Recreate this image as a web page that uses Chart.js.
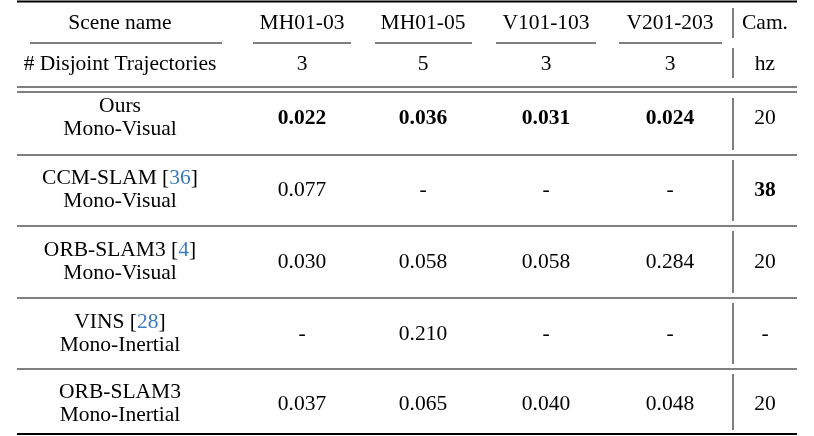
<!DOCTYPE html>
<html>
<head>
<meta charset="utf-8">
<script src="https://cdn.jsdelivr.net/npm/chart.js@4"></script>
<style>
  html, body { margin: 0; padding: 0; background: #fff; }
  #wrap { width: 814px; height: 436px; }
</style>
</head>
<body>
<div id="wrap"><canvas id="table-canvas"></canvas></div>
<script>
// table content
const scenes = ['MH01-03', 'MH01-05', 'V101-103', 'V201-203'];
const trajectories = ['3', '5', '3', '3'];
const methods = ['Ours', 'CCM-SLAM', 'ORB-SLAM3', 'VINS', 'ORB-SLAM3'];
const cites = ['', '36', '4', '28', ''];
const modes = ['Mono-Visual', 'Mono-Visual', 'Mono-Visual', 'Mono-Inertial', 'Mono-Inertial'];
const mh0103 = ['0.022', '0.077', '0.030', '-', '0.037'];
const mh0105 = ['0.036', '-', '0.058', '0.210', '0.065'];
const v101103 = ['0.031', '-', '0.058', '-', '0.040'];
const v201203 = ['0.024', '-', '0.284', '-', '0.048'];
const camHz = ['20', '38', '20', '-', '20'];
const boldCells = [[0, 1], [0, 2], [0, 3], [0, 4], [1, 5]];

// layout (pixel units on the hidden linear scales)
const colX = [120, 302, 423, 546, 670, 765];
const headerY = [23, 64];
const rowY = [118, 190, 262, 334, 404];
const FONT = '"Liberation Serif", "Times New Roman", serif';
const SIZE = 21.5;

const tablePlugin = {
  id: 'tableDraw',
  afterDraw(chart) {
    const c = chart.ctx;
    const xs = chart.scales.x, ys = chart.scales.y;
    const X = v => xs.getPixelForValue(v);
    const Y = v => ys.getPixelForValue(v);
    c.save();
    c.fillStyle = '#000';
    c.strokeStyle = '#000';
    c.textBaseline = 'middle';
    c.textAlign = 'center';

    const hline = (x0, x1, y, w) => {
      c.lineWidth = w; c.beginPath(); c.moveTo(X(x0), Y(y)); c.lineTo(X(x1), Y(y)); c.stroke();
    };
    const vline = (x, y0, y1) => {
      c.lineWidth = 1; c.beginPath(); c.moveTo(X(x), Y(y0)); c.lineTo(X(x), Y(y1)); c.stroke();
    };
    const text = (s, x, y, bold) => {
      c.font = (bold ? 'bold ' : '') + SIZE + 'px ' + FONT;
      c.fillText(s, X(x), Y(y));
    };

    // rules
    hline(17, 797, 1.5, 2);
    [[30, 222], [253, 351], [375, 472], [496, 596], [619, 722]].forEach(s => hline(s[0], s[1], 43, 1));
    hline(17, 797, 87, 1.2);
    hline(17, 797, 92, 1.2);
    [155, 226, 298, 369].forEach(y => hline(17, 797, y, 1));
    hline(17, 797, 434, 2);

    // vertical separator
    vline(733, 8, 38);
    vline(733, 48, 78);
    [[98, 150], [160, 221], [231, 293], [303, 364], [374, 430]].forEach(s => vline(733, s[0], s[1]));

    // header
    text('Scene name', colX[0], headerY[0]);
    scenes.forEach((s, i) => text(s, colX[i + 1], headerY[0]));
    text('Cam.', colX[5], headerY[0]);
    text('# Disjoint Trajectories', colX[0], headerY[1]);
    trajectories.forEach((s, i) => text(s, colX[i + 1], headerY[1]));
    text('hz', colX[5], headerY[1]);

    // body
    const cols = [mh0103, mh0105, v101103, v201203, camHz];
    methods.forEach((m, r) => {
      const y = rowY[r];
      c.font = SIZE + 'px ' + FONT;
      if (cites[r]) {
        const a = m + ' [', b = cites[r], d = ']';
        const wa = c.measureText(a).width, wb = c.measureText(b).width, wd = c.measureText(d).width;
        let x = X(colX[0]) - (wa + wb + wd) / 2;
        c.textAlign = 'left';
        c.fillText(a, x, Y(y - 12));
        c.fillStyle = '#3b7bbf';
        c.fillText(b, x + wa, Y(y - 12));
        c.fillStyle = '#000';
        c.fillText(d, x + wa + wb, Y(y - 12));
        c.textAlign = 'center';
      } else {
        text(m, colX[0], y - 12);
      }
      text(modes[r], colX[0], y + 11);
      cols.forEach((col, k) => {
        const bold = boldCells.some(b => b[0] === r && b[1] === k + 1);
        text(col[r], colX[k + 1], y, bold);
      });
    });
    c.restore();
  }
};

new Chart(document.getElementById('table-canvas'), {
  type: 'scatter',
  data: { datasets: [{ data: [] }] },
  options: {
    responsive: true,
    maintainAspectRatio: false,
    animation: false,
    layout: { padding: 0 },
    plugins: { legend: { display: false }, tooltip: { enabled: false } },
    scales: {
      x: { type: 'linear', min: 0, max: 814, display: false },
      y: { type: 'linear', min: 0, max: 436, reverse: true, display: false }
    }
  },
  plugins: [tablePlugin]
});
</script>
</body>
</html>
